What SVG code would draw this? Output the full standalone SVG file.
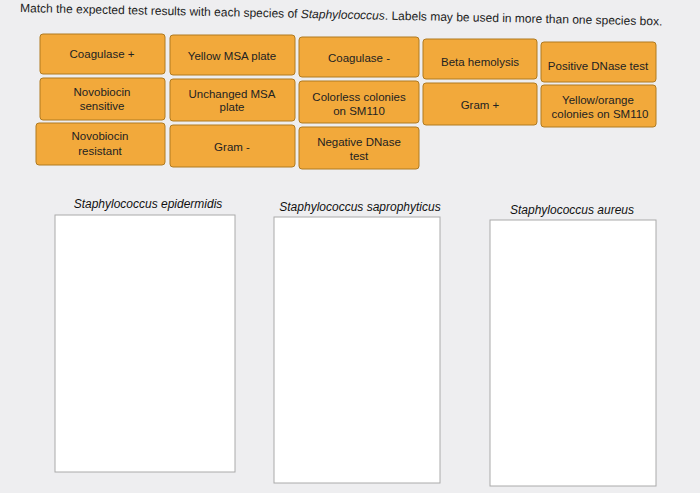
<svg xmlns="http://www.w3.org/2000/svg" width="700" height="493" viewBox="0 0 700 493">
<style>
.b{fill:#f2a93b;stroke:#b07a20;stroke-width:1}
.t{font-family:"Liberation Sans",Arial,sans-serif;font-size:11.5px;fill:#222;text-anchor:middle}
.h{font-family:"Liberation Sans",Arial,sans-serif;font-size:12px;fill:#111;font-style:italic;text-anchor:middle}
.c{fill:#fff;stroke:#aaa;stroke-width:1}
</style>
<rect width="700" height="493" fill="#eeeef0"/>
<text x="20" y="12" style="font-family:'Liberation Sans',Arial,sans-serif;font-size:12px;fill:#222" transform="rotate(1.2 20 12)">Match the expected test results with each species of <tspan font-style="italic">Staphylococcus</tspan>. Labels may be used in more than one species box.</text>
<g id="n1"><rect class="b" x="40" y="34" width="125" height="40" rx="3"/><text class="t" x="102" y="58">Coagulase +</text></g>
<g id="n2"><rect class="b" x="170" y="35" width="125" height="40" rx="3"/><text class="t" x="232" y="60">Yellow MSA plate</text></g>
<g id="n3"><rect class="b" x="299" y="37" width="120" height="40" rx="3"/><text class="t" x="359" y="62">Coagulase -</text></g>
<g id="n4"><rect class="b" x="423" y="39" width="114" height="40" rx="3"/><text class="t" x="480" y="66">Beta hemolysis</text></g>
<g id="n5"><rect class="b" x="541" y="42" width="115" height="40" rx="3"/><text class="t" x="598" y="70">Positive DNase test</text></g>
<g id="n6"><rect class="b" x="40" y="78" width="125" height="42" rx="3"/><text class="t" x="102" y="96">Novobiocin</text><text class="t" x="102" y="110">sensitive</text></g>
<g id="n7"><rect class="b" x="170" y="79" width="125" height="42" rx="3"/><text class="t" x="232" y="98">Unchanged MSA</text><text class="t" x="232" y="111">plate</text></g>
<g id="n8"><rect class="b" x="299" y="81" width="120" height="42" rx="3"/><text class="t" x="359" y="101">Colorless colonies</text><text class="t" x="359" y="115">on SM110</text></g>
<g id="n9"><rect class="b" x="423" y="83" width="114" height="42" rx="3"/><text class="t" x="480" y="109">Gram +</text></g>
<g id="n10"><rect class="b" x="541" y="85" width="115" height="42" rx="3"/><text class="t" x="598" y="104">Yellow/orange</text><text class="t" x="600" y="118">colonies on SM110</text></g>
<g id="n11"><rect class="b" x="36" y="123" width="129" height="42" rx="3"/><text class="t" x="100" y="140">Novobiocin</text><text class="t" x="100" y="155">resistant</text></g>
<g id="n12"><rect class="b" x="170" y="125" width="125" height="42" rx="3"/><text class="t" x="232" y="151">Gram -</text></g>
<g id="n13"><rect class="b" x="299" y="127" width="120" height="42" rx="3"/><text class="t" x="359" y="146">Negative DNase</text><text class="t" x="359" y="160">test</text></g>
<g id="h1"><text class="h" x="148" y="208">Staphylococcus epidermidis</text><rect class="c" x="55" y="215" width="180" height="257"/></g>
<g id="h2"><text class="h" x="360" y="211">Staphylococcus saprophyticus</text><rect class="c" x="274" y="217" width="166" height="266"/></g>
<g id="h3"><text class="h" x="572" y="214">Staphylococcus aureus</text><rect class="c" x="490" y="220" width="166" height="266"/></g>
<g id="connectors"/>
</svg>
